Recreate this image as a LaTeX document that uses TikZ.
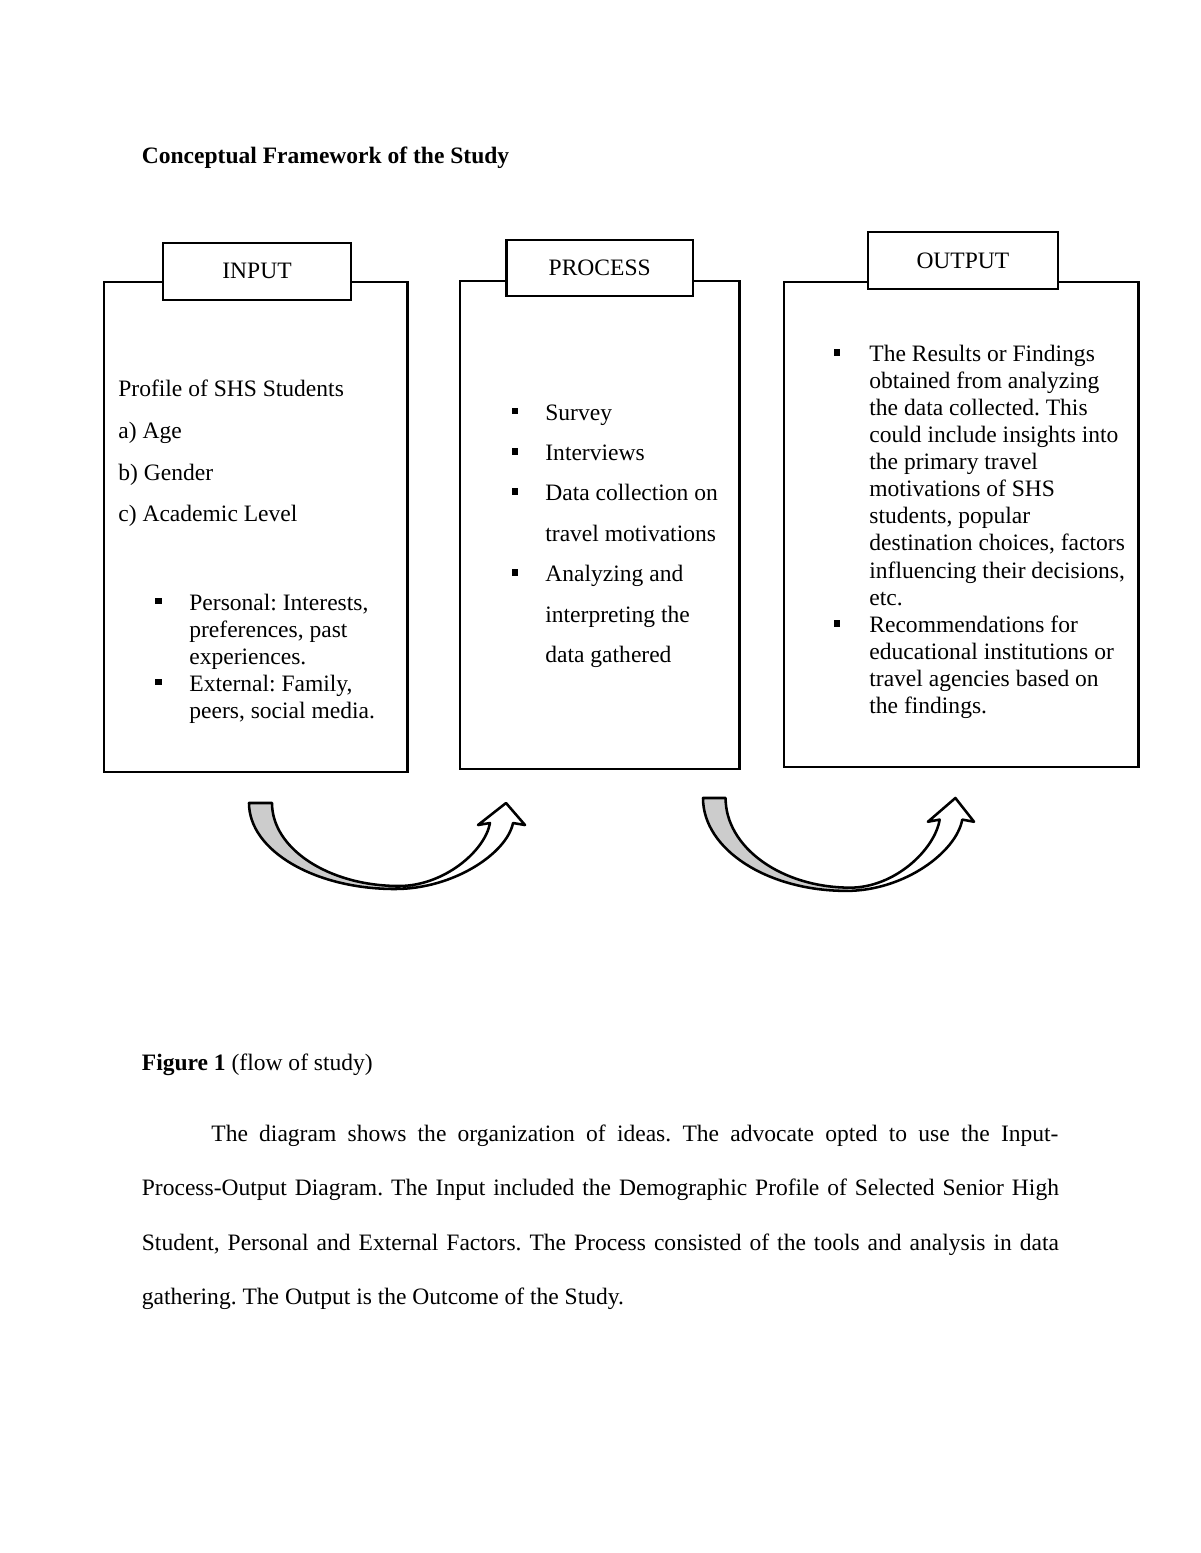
\documentclass[tikz,border=0pt]{standalone}
\usepackage{fontspec}
\setmainfont{Liberation Serif}
\frenchspacing
\begin{document}
\begin{tikzpicture}[x=0.51pt,y=-0.51pt,
  txt/.style={anchor=base west, inner sep=0pt, font=\fontsize{12}{13.8}\selectfont},
  bul/.style={fill=black, draw=none, minimum size=3.5pt, inner sep=0pt},
  boxline/.style={draw=black, line width=1.2pt},
  tab/.style={draw=black, line width=1.2pt, fill=white, inner sep=0pt, font=\fontsize{12}{13.8}\selectfont},
  arrowgray/.style={fill=black!20},
  arrowline/.style={draw=black, line width=1.3pt, line join=round},
  curvarrow/.pic={
    \fill[arrowgray] (0,0) .. controls (0,47.5) and (65.4,86) .. (146,86) -- (150,83) .. controls (79.9,83) and (23,45.8) .. (23,0) -- cycle;
    \draw[arrowline] (0,0) .. controls (0,47.5) and (65.4,86) .. (146,86) .. controls (205,86) and (258,50) .. (264,20) -- (276,22) -- (257,0) -- (229,22) -- (241,20) .. controls (236,48) and (195,83) .. (150,83) .. controls (79.9,83) and (23,45.8) .. (23,0) -- cycle;
  }
]
\useasboundingbox[fill=white] (0,0) rectangle (1200,1553);

% title
\node[txt, font=\fontsize{12}{13.8}\selectfont\bfseries] (title) at (141.5,163.3) {Conceptual Framework of the Study};

% big boxes
\draw[boxline] (104,281.7) rectangle (407.5,772);
\draw[boxline] (460,280.7) rectangle (739.5,769);
\draw[boxline] (784,282) rectangle (1138.5,767);

% tabs
\node[tab, minimum width=95.9pt, minimum height=29.1pt] (tabin) at (257,271.4) {INPUT};
\node[tab, minimum width=94.9pt, minimum height=28.4pt] (tabpr) at (599.7,267.9) {PROCESS};
\node[tab, minimum width=97.1pt, minimum height=29.1pt] (tabout) at (962.9,260.5) {OUTPUT};

% INPUT contents
\node[txt] (in1) at (118,396.7) {Profile of SHS Students};
\node[txt] (in2) at (118,438.4) {a) Age};
\node[txt] (in3) at (118,480.1) {b) Gender};
\node[txt] (in4) at (118,521.8) {c) Academic Level};
\node[bul] (inb1) at (158.5,601) {};
\node[txt] (in5) at (189,610) {Personal: Interests,};
\node[txt] (in6) at (189,637) {preferences, past};
\node[txt] (in7) at (189,664) {experiences.};
\node[bul] (inb2) at (158.5,682) {};
\node[txt] (in8) at (189,691) {External: Family,};
\node[txt] (in9) at (189,718) {peers, social media.};

% PROCESS contents
\node[bul] (prb1) at (515,411) {};
\node[txt] (pr1) at (545,420) {Survey};
\node[bul] (prb2) at (515,451.4) {};
\node[txt] (pr2) at (545,460.4) {Interviews};
\node[bul] (prb3) at (515,491.8) {};
\node[txt] (pr3) at (545,500.8) {Data collection on};
\node[txt] (pr4) at (545,541.2) {travel motivations};
\node[bul] (prb4) at (515,572.6) {};
\node[txt] (pr5) at (545,581.6) {Analyzing and};
\node[txt] (pr6) at (545,622) {interpreting the};
\node[txt] (pr7) at (545,662.4) {data gathered};

% OUTPUT contents
\node[bul] (oub1) at (837,352.5) {};
\node[txt] (ou1) at (869,361.5) {The Results or Findings};
\node[txt] (ou2) at (869,388.6) {obtained from analyzing};
\node[txt] (ou3) at (869,415.6) {the data collected. This};
\node[txt] (ou4) at (869,442.7) {could include insights into};
\node[txt] (ou5) at (869,469.7) {the primary travel};
\node[txt] (ou6) at (869,496.8) {motivations of SHS};
\node[txt] (ou7) at (869,523.9) {students, popular};
\node[txt] (ou8) at (869,550.9) {destination choices, factors};
\node[txt] (ou9) at (869,578) {influencing their decisions,};
\node[txt] (ou10) at (869,605) {etc.};
\node[bul] (oub2) at (837,623.1) {};
\node[txt] (ou11) at (869,632.1) {Recommendations for};
\node[txt] (ou12) at (869,659.2) {educational institutions or};
\node[txt] (ou13) at (869,686.2) {travel agencies based on};
\node[txt] (ou14) at (869,713.3) {the findings.};

% curved arrows
\pic at (249,803) {curvarrow};
\pic[xscale=0.982, yscale=1.08] at (703,798) {curvarrow};

% caption and paragraph
\node[txt] (fig) at (141.5,1070.5) {\textbf{Figure 1} (flow of study)};
\node[txt] (p1) at (211,1141) {\makebox[432pt][s]{The diagram shows the organization of ideas. The advocate opted to use the Input-}};
\node[txt] (p2) at (141.5,1195.5) {\makebox[467.7pt][s]{Process-Output Diagram. The Input included the Demographic Profile of Selected Senior High}};
\node[txt] (p3) at (141.5,1250) {\makebox[467.7pt][s]{Student, Personal and External Factors. The Process consisted of the tools and analysis in data}};
\node[txt] (p4) at (141.5,1304.5) {gathering. The Output is the Outcome of the Study.};
\end{tikzpicture}
\end{document}
